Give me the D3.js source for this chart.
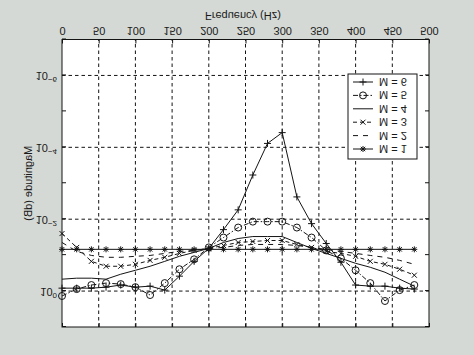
<!DOCTYPE html>
<html><head><meta charset="utf-8">
<script src="https://cdn.jsdelivr.net/npm/d3@7/dist/d3.min.js"></script>
<style>
body{margin:0;background:#d5d9d5;}
svg{display:block;}
text{font-family:"Liberation Sans",Arial,sans-serif;fill:#1a1a1a;}
</style></head><body>
<svg id="c" width="474" height="355"></svg>
<script>
// Data
const freqs = [0,20,40,60,80,100,120,140,160,180,200,220,240,260,280,300,320,340,360,380,400,420,440,460,480];
const xTickValues = [0,50,100,150,200,250,300,350,400,450,500];
const yLabelExponents = [-6,-4,-2,0];
const yMinorExponents = [-7,-5,-3,-1,1];
const m1 = [0.069,0.069,0.069,0.069,0.069,0.069,0.069,0.069,0.069,0.069,0.069,0.069,0.069,0.069,0.069,0.069,0.069,0.069,0.069,0.069,0.069,0.069,0.069,0.069,0.069];
const m2 = [0.0445,0.0788,0.102,0.115,0.115,0.108,0.102,0.0895,0.0788,0.074,0.065,0.061,0.0538,0.0505,0.0505,0.0505,0.0538,0.061,0.0693,0.0788,0.0895,0.102,0.115,0.140,0.180];
const m3 = [0.0251,0.061,0.149,0.204,0.204,0.180,0.140,0.115,0.0895,0.074,0.065,0.0538,0.0445,0.0418,0.0392,0.0392,0.0505,0.061,0.0788,0.0895,0.108,0.149,0.180,0.247,0.362];
const m4 = [0.467,0.438,0.438,0.467,0.340,0.264,0.204,0.149,0.108,0.084,0.065,0.0445,0.0345,0.0304,0.0304,0.0304,0.0445,0.065,0.0895,0.123,0.169,0.218,0.299,0.467,0.73];
const m5 = [1.37,0.88,0.68,0.60,0.64,0.78,1.29,0.60,0.247,0.131,0.061,0.0324,0.0171,0.0117,0.0117,0.0117,0.0171,0.0324,0.074,0.123,0.264,0.60,1.89,0.94,0.68];
const m6 = [0.83,0.83,0.83,0.78,0.68,0.78,0.73,0.94,0.385,0.149,0.065,0.0195,0.0055,5.9e-4,7.8e-5,3.9e-5,2.4e-3,0.0133,0.0474,0.158,0.68,0.73,0.73,0.83,0.88];
const seriesNames = ["M = 1","M = 2","M = 3","M = 4","M = 5","M = 6"];

const series = [
  {name:seriesNames[0], values:m1, dash:null, marker:"star"},
  {name:seriesNames[1], values:m2, dash:"5,5", marker:null},
  {name:seriesNames[2], values:m3, dash:"4,3", marker:"x"},
  {name:seriesNames[3], values:m4, dash:null, marker:null},
  {name:seriesNames[4], values:m5, dash:"5,2,1.5,2", marker:"o"},
  {name:seriesNames[5], values:m6, dash:null, marker:"plus"}
];

const W = 474, H = 355;
const L = 62, R = 429, T = 28, B = 315.5;
const ink = "#141414";

const svg = d3.select("#c");
// whole figure is shown mirrored top-to-bottom, as in the reference
const g = svg.append("g").attr("transform", `translate(0,${H}) scale(1,-1)`);

const x = d3.scaleLinear().domain([0,500]).range([L,R]);
const y = d3.scaleLog().domain([1e-7,1e1]).range([B,T]);

g.append("rect").attr("x",L).attr("y",T).attr("width",R-L).attr("height",B-T).attr("fill","#fff");

// grid
const grid = g.append("g").attr("stroke",ink).attr("stroke-width",1).attr("stroke-dasharray","3.5,3");
xTickValues.slice(1,-1).forEach(v=>{
  grid.append("line").attr("x1",x(v)).attr("x2",x(v)).attr("y1",T).attr("y2",B);
});
yLabelExponents.forEach(e=>{
  grid.append("line").attr("x1",L).attr("x2",R).attr("y1",y(Math.pow(10,e))).attr("y2",y(Math.pow(10,e)));
});

// axes (ticks inward, labels)
const xAxis = d3.axisBottom(x).tickValues(xTickValues).tickSizeInner(-4).tickSizeOuter(0).tickPadding(5);
const xa = g.append("g").attr("transform",`translate(0,${B})`).call(xAxis);
xa.select(".domain").remove();
xa.selectAll("line").attr("stroke",ink);
xa.selectAll("text").attr("font-size",11).attr("font-family","Liberation Sans, Arial, sans-serif").attr("fill","#1a1a1a");
const xTop = d3.axisTop(x).tickValues(xTickValues).tickSizeInner(-4).tickSizeOuter(0).tickFormat("");
const xt = g.append("g").attr("transform",`translate(0,${T})`).call(xTop);
xt.select(".domain").remove();
xt.selectAll("line").attr("stroke",ink);

const allY = yLabelExponents.concat(yMinorExponents).map(e=>Math.pow(10,e));
const yl = d3.axisLeft(y).tickValues(allY).tickSizeInner(-4).tickSizeOuter(0).tickFormat("");
const ya = g.append("g").attr("transform",`translate(${L},0)`).call(yl);
ya.select(".domain").remove(); ya.selectAll("line").attr("stroke",ink);
const yr = d3.axisRight(y).tickValues(allY).tickSizeInner(-4).tickSizeOuter(0).tickFormat("");
const yra = g.append("g").attr("transform",`translate(${R},0)`).call(yr);
yra.select(".domain").remove(); yra.selectAll("line").attr("stroke",ink);

yLabelExponents.forEach(e=>{
  const t = g.append("text").attr("x",57).attr("y",y(Math.pow(10,e))+3.5)
    .attr("text-anchor","end").attr("font-size",11);
  t.append("tspan").text("10");
  t.append("tspan").attr("dy",-5).attr("font-size",8).text(String(e).replace("-","\u2212"));
});

// labels
g.append("text").attr("x",243).attr("y",343).attr("text-anchor","middle").attr("font-size",11).text("Frequency (Hz)");
g.append("text").attr("transform",`translate(32,${(T+B)/2}) rotate(-90)`).attr("text-anchor","middle").attr("font-size",11).text("Magnitude (dB)");

// markers
function drawMarker(sel, type, cx, cy){
  const m = sel.append("g").attr("transform",`translate(${cx},${cy})`).attr("stroke",ink).attr("stroke-width",1).attr("fill","none");
  if(type==="plus"){
    m.append("line").attr("x1",-3.5).attr("x2",3.5).attr("y1",0).attr("y2",0);
    m.append("line").attr("x1",0).attr("x2",0).attr("y1",-3.5).attr("y2",3.5);
  } else if(type==="x"){
    m.append("line").attr("x1",-2.5).attr("x2",2.5).attr("y1",-2.5).attr("y2",2.5);
    m.append("line").attr("x1",-2.5).attr("x2",2.5).attr("y1",2.5).attr("y2",-2.5);
  } else if(type==="star"){
    m.append("line").attr("x1",-3).attr("x2",3).attr("y1",0).attr("y2",0);
    m.append("line").attr("x1",0).attr("x2",0).attr("y1",-3).attr("y2",3);
    m.append("line").attr("x1",-2.2).attr("x2",2.2).attr("y1",-2.2).attr("y2",2.2);
    m.append("line").attr("x1",-2.2).attr("x2",2.2).attr("y1",2.2).attr("y2",-2.2);
  } else if(type==="o"){
    m.append("circle").attr("r",3.5);
  }
}

const plot = g.append("g");
const line = d3.line().x(d=>x(d[0])).y(d=>y(d[1]));
series.forEach(s=>{
  const pts = freqs.map((f,i)=>[f,s.values[i]]);
  plot.append("path").attr("d",line(pts)).attr("fill","none").attr("stroke",ink)
    .attr("stroke-width",1).attr("stroke-dasharray",s.dash);
  if(s.marker) pts.forEach(p=>drawMarker(plot,s.marker,x(p[0]),y(p[1])));
});

// box
g.append("rect").attr("x",L).attr("y",T).attr("width",R-L).attr("height",B-T).attr("fill","none").attr("stroke",ink).attr("stroke-width",1);

// legend
const lg = g.append("g");
lg.append("rect").attr("x",348).attr("y",196).attr("width",69).attr("height",85).attr("fill","#fff").attr("stroke",ink);
series.forEach((s,i)=>{
  const yy = 206 + i*13.4;
  lg.append("line").attr("x1",353).attr("x2",373).attr("y1",yy).attr("y2",yy)
    .attr("stroke",ink).attr("stroke-dasharray",s.dash);
  if(s.marker) drawMarker(lg,s.marker,363,yy);
  lg.append("text").attr("x",379).attr("y",yy+4).attr("font-size",11).text(s.name);
});
</script>
</body></html>
